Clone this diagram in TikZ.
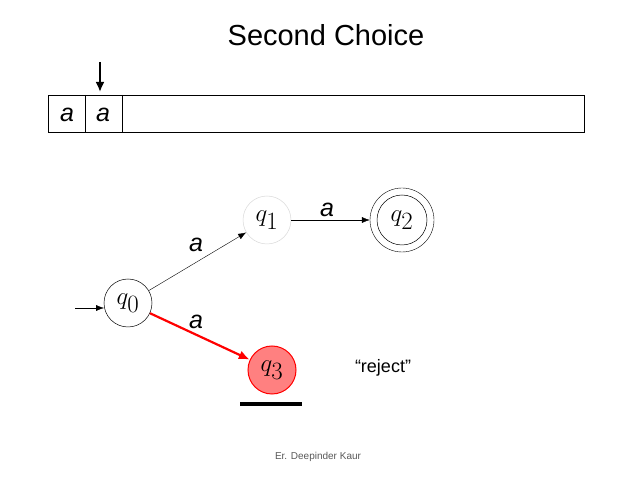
\documentclass[tikz,border=0pt]{standalone}
\usepackage{fontspec}
\setsansfont{Liberation Sans}
\usetikzlibrary{arrows.meta}
\begin{document}
\begin{tikzpicture}[x=1pt,y=-1pt,
  st/.style={circle,draw,line width=0.5pt,minimum size=48pt,inner sep=0pt,font=\fontsize{36}{36}\selectfont},
  lab/.style={font=\sffamily\itshape\fontsize{25}{25}\selectfont},
  ed/.style={-{Latex[length=8pt,width=6pt]},thin}]
\useasboundingbox[fill=white] (0,0) rectangle (638,478);
\node (title) at (326,35) {\sffamily\fontsize{29}{29}\selectfont Second Choice};
\draw (48,95) rectangle (584,132);
\draw (85,95) -- (85,132) (122,95) -- (122,132);
\node[lab] (c1) at (67,115) {a};
\node[lab] (c2) at (103,115) {a};
\coordinate (ht) at (100,62); \coordinate (hb) at (100,92);
\draw[-{Latex[length=10pt,width=9pt]},line width=2pt] (ht) -- (hb);
\node[st] (q0) at (128,303) {$q_0$};
\node[st,draw=gray!30] (q1) at (267,220) {$q_1$};
\node[st,minimum size=50pt] (q2) at (402,220) {$q_2$};
\node[circle,draw,minimum size=64pt,inner sep=0pt] (q2o) at (402,220) {};
\node[st,draw=red,fill=red!50,line width=1pt] (q3) at (272,370) {$q_3$};
\coordinate (s) at (75,308);
\draw[ed] (s) -- (104,308);
\draw[ed] (q0) -- (q1);
\draw[ed] (q1) -- (q2o);
\draw[-{Latex[length=11pt,width=9pt]},red,line width=2.2pt] (q0) -- (q3);
\node[lab] (l1) at (196,245) {a};
\node[lab] (l2) at (327,210) {a};
\node[lab] (l3) at (196,322) {a};
\coordinate (b1) at (240,404); \coordinate (b2) at (302,404);
\draw[line width=4pt] (b1) -- (b2);
\node (rej) at (383,368) {\sffamily\fontsize{18}{18}\selectfont “reject”};
\node[gray!70!black] (ft) at (318,457) {\sffamily\fontsize{10}{10}\selectfont Er. Deepinder Kaur};
\end{tikzpicture}
\end{document}
